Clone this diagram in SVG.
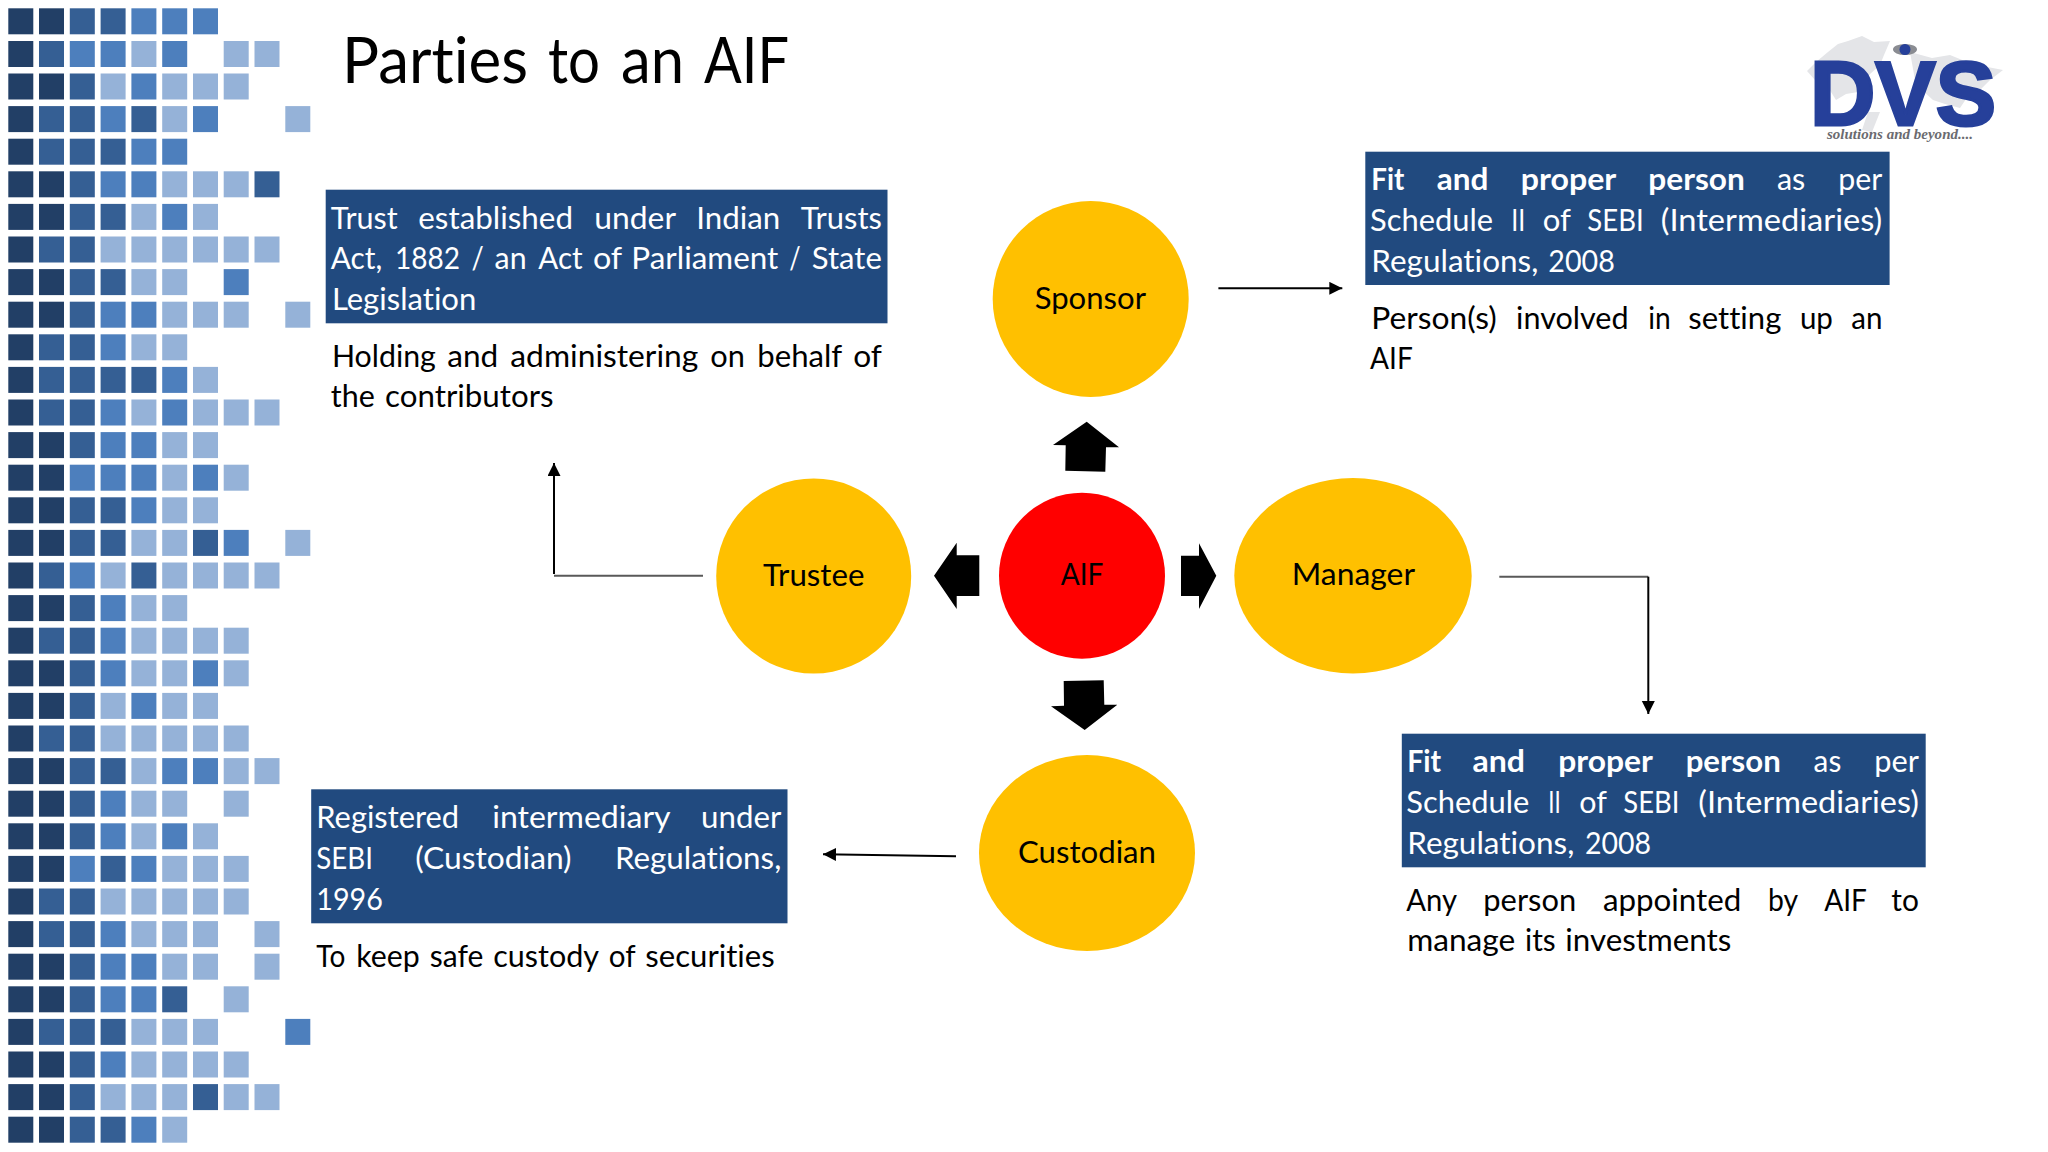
<svg xmlns="http://www.w3.org/2000/svg" width="2048" height="1152" viewBox="0 0 2048 1152">
<style>
text{font-family:"Lato","Open Sans",sans-serif;font-size:30.5px;fill:#000;font-variant-ligatures:none}
.w{fill:#fff}
.h{font-size:63px}
.b{font-weight:700}
#grid rect{width:25px;height:26px}
.a{fill:#223f66}.m{fill:#355f94}.c{fill:#4d7fbd}.d{fill:#95b2d8}
.box{fill:#214a7f}
.y{fill:#ffc000}
.r{fill:#f00}
.blk{fill:#000}
.ln{fill:none;stroke:#000;stroke-width:2}
.gr{fill:none;stroke:#595959;stroke-width:2}
.map{fill:#e4e5e8}
.logo{font-family:"Liberation Sans",sans-serif;font-weight:700;font-size:91px;fill:#26409a;stroke:#26409a;stroke-width:3}
.tag{font-family:"Liberation Serif",serif;font-style:italic;font-weight:700;font-size:14px;fill:#6b6b70}
</style>
<defs>
<marker id="ah" markerUnits="userSpaceOnUse" markerWidth="14" markerHeight="14" refX="13" refY="6.5" orient="auto"><path d="M0 0L13 6.5L0 13Z" fill="#000"/></marker>
</defs>
<rect width="2048" height="1152" fill="#fff"/>
<g id="grid">
<g transform="translate(0,8.3)"><rect class="a" x="8.3"/><rect class="a" x="39"/><rect class="m" x="69.8"/><rect class="m" x="100.6"/><rect class="c" x="131.4"/><rect class="c" x="162.2"/><rect class="c" x="193"/></g>
<g transform="translate(0,41)"><rect class="a" x="8.3"/><rect class="m" x="39"/><rect class="c" x="69.8"/><rect class="c" x="100.6"/><rect class="d" x="131.4"/><rect class="c" x="162.2"/><rect class="d" x="223.7"/><rect class="d" x="254.5"/></g>
<g transform="translate(0,73.5)"><rect class="a" x="8.3"/><rect class="a" x="39"/><rect class="m" x="69.8"/><rect class="d" x="100.6"/><rect class="c" x="131.4"/><rect class="d" x="162.2"/><rect class="d" x="193"/><rect class="d" x="223.7"/></g>
<g transform="translate(0,106.1)"><rect class="a" x="8.3"/><rect class="m" x="39"/><rect class="m" x="69.8"/><rect class="c" x="100.6"/><rect class="m" x="131.4"/><rect class="d" x="162.2"/><rect class="c" x="193"/><rect class="d" x="285.3"/></g>
<g transform="translate(0,138.7)"><rect class="a" x="8.3"/><rect class="m" x="39"/><rect class="m" x="69.8"/><rect class="m" x="100.6"/><rect class="c" x="131.4"/><rect class="c" x="162.2"/></g>
<g transform="translate(0,171.3)"><rect class="a" x="8.3"/><rect class="a" x="39"/><rect class="m" x="69.8"/><rect class="c" x="100.6"/><rect class="c" x="131.4"/><rect class="d" x="162.2"/><rect class="d" x="193"/><rect class="d" x="223.7"/><rect class="m" x="254.5"/></g>
<g transform="translate(0,203.9)"><rect class="a" x="8.3"/><rect class="a" x="39"/><rect class="m" x="69.8"/><rect class="m" x="100.6"/><rect class="d" x="131.4"/><rect class="c" x="162.2"/><rect class="d" x="193"/></g>
<g transform="translate(0,236.5)"><rect class="a" x="8.3"/><rect class="m" x="39"/><rect class="m" x="69.8"/><rect class="d" x="100.6"/><rect class="d" x="131.4"/><rect class="d" x="162.2"/><rect class="d" x="193"/><rect class="d" x="223.7"/><rect class="d" x="254.5"/></g>
<g transform="translate(0,269.1)"><rect class="a" x="8.3"/><rect class="a" x="39"/><rect class="m" x="69.8"/><rect class="m" x="100.6"/><rect class="d" x="131.4"/><rect class="d" x="162.2"/><rect class="c" x="223.7"/></g>
<g transform="translate(0,301.7)"><rect class="a" x="8.3"/><rect class="a" x="39"/><rect class="m" x="69.8"/><rect class="c" x="100.6"/><rect class="c" x="131.4"/><rect class="d" x="162.2"/><rect class="d" x="193"/><rect class="d" x="223.7"/><rect class="d" x="285.3"/></g>
<g transform="translate(0,334.3)"><rect class="a" x="8.3"/><rect class="m" x="39"/><rect class="m" x="69.8"/><rect class="c" x="100.6"/><rect class="d" x="131.4"/><rect class="d" x="162.2"/></g>
<g transform="translate(0,366.9)"><rect class="a" x="8.3"/><rect class="m" x="39"/><rect class="m" x="69.8"/><rect class="m" x="100.6"/><rect class="m" x="131.4"/><rect class="c" x="162.2"/><rect class="d" x="193"/></g>
<g transform="translate(0,399.5)"><rect class="a" x="8.3"/><rect class="m" x="39"/><rect class="m" x="69.8"/><rect class="c" x="100.6"/><rect class="d" x="131.4"/><rect class="c" x="162.2"/><rect class="d" x="193"/><rect class="d" x="223.7"/><rect class="d" x="254.5"/></g>
<g transform="translate(0,432.1)"><rect class="a" x="8.3"/><rect class="a" x="39"/><rect class="m" x="69.8"/><rect class="c" x="100.6"/><rect class="c" x="131.4"/><rect class="d" x="162.2"/><rect class="d" x="193"/></g>
<g transform="translate(0,464.7)"><rect class="a" x="8.3"/><rect class="a" x="39"/><rect class="c" x="69.8"/><rect class="c" x="100.6"/><rect class="c" x="131.4"/><rect class="d" x="162.2"/><rect class="c" x="193"/><rect class="d" x="223.7"/></g>
<g transform="translate(0,497.3)"><rect class="a" x="8.3"/><rect class="a" x="39"/><rect class="m" x="69.8"/><rect class="m" x="100.6"/><rect class="c" x="131.4"/><rect class="d" x="162.2"/><rect class="d" x="193"/></g>
<g transform="translate(0,529.9)"><rect class="a" x="8.3"/><rect class="a" x="39"/><rect class="m" x="69.8"/><rect class="m" x="100.6"/><rect class="d" x="131.4"/><rect class="d" x="162.2"/><rect class="m" x="193"/><rect class="c" x="223.7"/><rect class="d" x="285.3"/></g>
<g transform="translate(0,562.5)"><rect class="a" x="8.3"/><rect class="m" x="39"/><rect class="c" x="69.8"/><rect class="d" x="100.6"/><rect class="m" x="131.4"/><rect class="d" x="162.2"/><rect class="d" x="193"/><rect class="d" x="223.7"/><rect class="d" x="254.5"/></g>
<g transform="translate(0,595.1)"><rect class="a" x="8.3"/><rect class="a" x="39"/><rect class="m" x="69.8"/><rect class="c" x="100.6"/><rect class="d" x="131.4"/><rect class="d" x="162.2"/></g>
<g transform="translate(0,627.7)"><rect class="a" x="8.3"/><rect class="m" x="39"/><rect class="m" x="69.8"/><rect class="c" x="100.6"/><rect class="d" x="131.4"/><rect class="d" x="162.2"/><rect class="d" x="193"/><rect class="d" x="223.7"/></g>
<g transform="translate(0,660.3)"><rect class="a" x="8.3"/><rect class="a" x="39"/><rect class="m" x="69.8"/><rect class="c" x="100.6"/><rect class="d" x="131.4"/><rect class="d" x="162.2"/><rect class="c" x="193"/><rect class="d" x="223.7"/></g>
<g transform="translate(0,692.9)"><rect class="a" x="8.3"/><rect class="a" x="39"/><rect class="m" x="69.8"/><rect class="d" x="100.6"/><rect class="c" x="131.4"/><rect class="d" x="162.2"/><rect class="d" x="193"/></g>
<g transform="translate(0,725.5)"><rect class="a" x="8.3"/><rect class="m" x="39"/><rect class="m" x="69.8"/><rect class="d" x="100.6"/><rect class="d" x="131.4"/><rect class="d" x="162.2"/><rect class="d" x="193"/><rect class="d" x="223.7"/></g>
<g transform="translate(0,758.1)"><rect class="a" x="8.3"/><rect class="a" x="39"/><rect class="m" x="69.8"/><rect class="m" x="100.6"/><rect class="d" x="131.4"/><rect class="c" x="162.2"/><rect class="c" x="193"/><rect class="d" x="223.7"/><rect class="d" x="254.5"/></g>
<g transform="translate(0,790.7)"><rect class="a" x="8.3"/><rect class="a" x="39"/><rect class="m" x="69.8"/><rect class="c" x="100.6"/><rect class="d" x="131.4"/><rect class="d" x="162.2"/><rect class="d" x="223.7"/></g>
<g transform="translate(0,823.3)"><rect class="a" x="8.3"/><rect class="a" x="39"/><rect class="m" x="69.8"/><rect class="c" x="100.6"/><rect class="d" x="131.4"/><rect class="c" x="162.2"/><rect class="d" x="193"/></g>
<g transform="translate(0,855.9)"><rect class="a" x="8.3"/><rect class="a" x="39"/><rect class="c" x="69.8"/><rect class="m" x="100.6"/><rect class="c" x="131.4"/><rect class="d" x="162.2"/><rect class="d" x="193"/><rect class="d" x="223.7"/></g>
<g transform="translate(0,888.5)"><rect class="a" x="8.3"/><rect class="m" x="39"/><rect class="m" x="69.8"/><rect class="d" x="100.6"/><rect class="d" x="131.4"/><rect class="d" x="162.2"/><rect class="d" x="193"/><rect class="d" x="223.7"/></g>
<g transform="translate(0,921.1)"><rect class="a" x="8.3"/><rect class="m" x="39"/><rect class="m" x="69.8"/><rect class="c" x="100.6"/><rect class="d" x="131.4"/><rect class="d" x="162.2"/><rect class="d" x="193"/><rect class="d" x="254.5"/></g>
<g transform="translate(0,953.7)"><rect class="a" x="8.3"/><rect class="a" x="39"/><rect class="m" x="69.8"/><rect class="c" x="100.6"/><rect class="c" x="131.4"/><rect class="d" x="162.2"/><rect class="d" x="193"/><rect class="d" x="254.5"/></g>
<g transform="translate(0,986.3)"><rect class="a" x="8.3"/><rect class="a" x="39"/><rect class="m" x="69.8"/><rect class="c" x="100.6"/><rect class="c" x="131.4"/><rect class="m" x="162.2"/><rect class="d" x="223.7"/></g>
<g transform="translate(0,1018.9)"><rect class="a" x="8.3"/><rect class="m" x="39"/><rect class="m" x="69.8"/><rect class="m" x="100.6"/><rect class="d" x="131.4"/><rect class="d" x="162.2"/><rect class="d" x="193"/><rect class="c" x="285.3"/></g>
<g transform="translate(0,1051.5)"><rect class="a" x="8.3"/><rect class="a" x="39"/><rect class="m" x="69.8"/><rect class="c" x="100.6"/><rect class="d" x="131.4"/><rect class="d" x="162.2"/><rect class="d" x="193"/><rect class="d" x="223.7"/></g>
<g transform="translate(0,1084.1)"><rect class="a" x="8.3"/><rect class="a" x="39"/><rect class="m" x="69.8"/><rect class="d" x="100.6"/><rect class="d" x="131.4"/><rect class="d" x="162.2"/><rect class="m" x="193"/><rect class="d" x="223.7"/><rect class="d" x="254.5"/></g>
<g transform="translate(0,1116.7)"><rect class="a" x="8.3"/><rect class="a" x="39"/><rect class="m" x="69.8"/><rect class="m" x="100.6"/><rect class="c" x="131.4"/><rect class="d" x="162.2"/></g>
</g>
<text id="title" class="h" y="83"><tspan x="342" textLength="186" lengthAdjust="spacingAndGlyphs">Parties</tspan> <tspan x="548" textLength="52" lengthAdjust="spacingAndGlyphs">to</tspan> <tspan x="621" textLength="63" lengthAdjust="spacingAndGlyphs">an</tspan> <tspan x="704" textLength="85" lengthAdjust="spacingAndGlyphs">AIF</tspan></text>
<g id="logo">
<path class="map" d="M1807 71L1816 62L1828 52L1838 44L1848 41L1862 36L1874 42L1890 41L1884 55L1880 65L1870 74L1858 92L1846 94L1836 100L1826 84L1815 80Z"/>
<path class="map" d="M1868 112L1880 112L1872 132L1862 130Z"/>
<path class="map" d="M1910 52L1932 58L1950 55L1972 64L2003 70L1990 80L1980 90L1968 96L1960 108L1945 104L1933 100L1922 90L1915 80Z"/>
<text class="logo" x="1810" y="124.5" textLength="186" lengthAdjust="spacingAndGlyphs">DVS</text>
<ellipse cx="1905" cy="49.5" rx="12" ry="5.5" fill="#8a8c92"/>
<circle cx="1905" cy="49.5" r="5.5" fill="#26409a"/>
<text class="tag" x="1827" y="139" textLength="146" lengthAdjust="spacingAndGlyphs">solutions and beyond....</text>
</g>
<g id="connectors">
<path class="ln" d="M1218.4 288.3H1342.3" marker-end="url(#ah)"/>
<path class="gr" d="M1499.3 576.7H1648.3"/>
<path class="ln" d="M1648.3 576.7V714" marker-end="url(#ah)"/>
<path class="gr" d="M703 575.7H554"/>
<path class="ln" d="M554 574V463" marker-end="url(#ah)"/>
<path class="ln" d="M956 856.3L823 854.3" marker-end="url(#ah)"/>
<path class="blk" d="M1086.7 421.7L1119 447.3H1106L1105.3 471.7L1065.3 470.7L1065.7 445.3L1053 445Z"/>
<path class="blk" d="M934 575.7L956.7 542.7V555.3H979.3V596H956.7V609Z"/>
<path class="blk" d="M1181 555.7H1199V543.3L1216.3 575.7L1199 609V596H1181Z"/>
<path class="blk" d="M1063.7 681L1103.7 680.3L1104.3 704.7H1117.3L1084.7 730L1051 706.3L1064 705.7Z"/>
</g>
<g id="aif"><circle class="r" cx="1082" cy="575.7" r="83"/><text x="1060.7" y="585.3" textLength="42.6" lengthAdjust="spacingAndGlyphs">AIF</text></g>
<g id="sponsor"><circle class="y" cx="1090.7" cy="299" r="98"/><text x="1034.7" y="309" textLength="111.3" lengthAdjust="spacingAndGlyphs">Sponsor</text></g>
<g id="trustee"><circle class="y" cx="813.7" cy="576" r="97.5"/><text x="763" y="585.5" textLength="101.5" lengthAdjust="spacingAndGlyphs">Trustee</text></g>
<g id="manager"><ellipse class="y" cx="1353" cy="575.7" rx="118.7" ry="97.7"/><text x="1291.7" y="585.2" textLength="123.3" lengthAdjust="spacingAndGlyphs">Manager</text></g>
<g id="custodian"><ellipse class="y" cx="1087" cy="853" rx="108" ry="98"/><text x="1018" y="862.5" textLength="138" lengthAdjust="spacingAndGlyphs">Custodian</text></g>
<g id="trust-info">
<rect class="box" x="325.7" y="189.7" width="561.8" height="133.6"/>
<g transform="translate(-0.7,0.5)">
<text class="w" y="228"><tspan x="331.5" textLength="67" lengthAdjust="spacingAndGlyphs">Trust</tspan> <tspan x="419" textLength="154.7" lengthAdjust="spacingAndGlyphs">established</tspan> <tspan x="595" textLength="81" lengthAdjust="spacingAndGlyphs">under</tspan> <tspan x="697" textLength="84" lengthAdjust="spacingAndGlyphs">Indian</tspan> <tspan x="801.4" textLength="81.2" lengthAdjust="spacingAndGlyphs">Trusts</tspan></text>
<text class="w" y="268"><tspan x="331.5" textLength="51.5" lengthAdjust="spacingAndGlyphs">Act,</tspan> <tspan x="395.8" textLength="65" lengthAdjust="spacingAndGlyphs">1882</tspan> <tspan x="472.3" textLength="12.3" lengthAdjust="spacingAndGlyphs">/</tspan> <tspan x="495.3" textLength="32" lengthAdjust="spacingAndGlyphs">an</tspan> <tspan x="539" textLength="44.3" lengthAdjust="spacingAndGlyphs">Act</tspan> <tspan x="593.6" textLength="28.7" lengthAdjust="spacingAndGlyphs">of</tspan> <tspan x="632" textLength="147" lengthAdjust="spacingAndGlyphs">Parliament</tspan> <tspan x="790" textLength="11.4" lengthAdjust="spacingAndGlyphs">/</tspan> <tspan x="812.5" textLength="70" lengthAdjust="spacingAndGlyphs">State</tspan></text>
<text class="w" x="332.6" y="309" textLength="144.4" lengthAdjust="spacingAndGlyphs">Legislation</text>
<text y="366.7"><tspan x="332.6" textLength="104" lengthAdjust="spacingAndGlyphs">Holding</tspan> <tspan x="448" textLength="51" lengthAdjust="spacingAndGlyphs">and</tspan> <tspan x="511" textLength="188" lengthAdjust="spacingAndGlyphs">administering</tspan> <tspan x="711" textLength="34.6" lengthAdjust="spacingAndGlyphs">on</tspan> <tspan x="758" textLength="84.4" lengthAdjust="spacingAndGlyphs">behalf</tspan> <tspan x="853.9" textLength="28.7" lengthAdjust="spacingAndGlyphs">of</tspan></text>
<text y="406.7"><tspan x="331.5" textLength="44" lengthAdjust="spacingAndGlyphs">the</tspan> <tspan x="385.8" textLength="168.4" lengthAdjust="spacingAndGlyphs">contributors</tspan></text>
</g>
</g>
<g id="sponsor-info">
<rect class="box" x="1365.3" y="151.7" width="524.3" height="133.3"/>
<g transform="translate(-0.7,0.3)">
<text class="w" y="190"><tspan class="b" x="1372" textLength="33" lengthAdjust="spacingAndGlyphs">Fit</tspan> <tspan class="b" x="1437.4" textLength="51.6" lengthAdjust="spacingAndGlyphs">and</tspan> <tspan class="b" x="1521.4" textLength="95.6" lengthAdjust="spacingAndGlyphs">proper</tspan> <tspan class="b" x="1649" textLength="96.5" lengthAdjust="spacingAndGlyphs">person</tspan> <tspan x="1777.6" textLength="28.4" lengthAdjust="spacingAndGlyphs">as</tspan> <tspan x="1839" textLength="44" lengthAdjust="spacingAndGlyphs">per</tspan></text>
<text class="w" y="230.7"><tspan x="1370.8" textLength="123" lengthAdjust="spacingAndGlyphs">Schedule</tspan> <tspan x="1512" textLength="14" lengthAdjust="spacingAndGlyphs">II</tspan> <tspan x="1543.4" textLength="27.6" lengthAdjust="spacingAndGlyphs">of</tspan> <tspan x="1588" textLength="56.4" lengthAdjust="spacingAndGlyphs">SEBI</tspan> <tspan x="1661.4" textLength="221.6" lengthAdjust="spacingAndGlyphs">(Intermediaries)</tspan></text>
<text class="w" y="271.7"><tspan x="1372" textLength="167" lengthAdjust="spacingAndGlyphs">Regulations,</tspan> <tspan x="1549" textLength="66.5" lengthAdjust="spacingAndGlyphs">2008</tspan></text>
<text y="328.3"><tspan x="1372" textLength="125.5" lengthAdjust="spacingAndGlyphs">Person(s)</tspan> <tspan x="1516.8" textLength="112.5" lengthAdjust="spacingAndGlyphs">involved</tspan> <tspan x="1649" textLength="22.5" lengthAdjust="spacingAndGlyphs">in</tspan> <tspan x="1689" textLength="93" lengthAdjust="spacingAndGlyphs">setting</tspan> <tspan x="1800.6" textLength="33" lengthAdjust="spacingAndGlyphs">up</tspan> <tspan x="1852" textLength="31.2" lengthAdjust="spacingAndGlyphs">an</tspan></text>
<text x="1370.8" y="369" textLength="42.7" lengthAdjust="spacingAndGlyphs">AIF</text>
</g>
</g>
<g id="manager-info">
<rect class="box" x="1401.8" y="733.7" width="523.9" height="133.6"/>
<g transform="translate(-0.7,0.5)">
<text class="w" y="771.7"><tspan class="b" x="1407.9" textLength="33.9" lengthAdjust="spacingAndGlyphs">Fit</tspan> <tspan class="b" x="1473.2" textLength="52.5" lengthAdjust="spacingAndGlyphs">and</tspan> <tspan class="b" x="1559" textLength="94.6" lengthAdjust="spacingAndGlyphs">proper</tspan> <tspan class="b" x="1686.4" textLength="95" lengthAdjust="spacingAndGlyphs">person</tspan> <tspan x="1814.3" textLength="27.7" lengthAdjust="spacingAndGlyphs">as</tspan> <tspan x="1875" textLength="44.6" lengthAdjust="spacingAndGlyphs">per</tspan></text>
<text class="w" y="812.7"><tspan x="1407" textLength="123" lengthAdjust="spacingAndGlyphs">Schedule</tspan> <tspan x="1549" textLength="12.4" lengthAdjust="spacingAndGlyphs">II</tspan> <tspan x="1580" textLength="27" lengthAdjust="spacingAndGlyphs">of</tspan> <tspan x="1624" textLength="56" lengthAdjust="spacingAndGlyphs">SEBI</tspan> <tspan x="1699" textLength="220.6" lengthAdjust="spacingAndGlyphs">(Intermediaries)</tspan></text>
<text class="w" y="853.3"><tspan x="1407.9" textLength="167.1" lengthAdjust="spacingAndGlyphs">Regulations,</tspan> <tspan x="1585.7" textLength="66.1" lengthAdjust="spacingAndGlyphs">2008</tspan></text>
<text y="910"><tspan x="1407" textLength="50" lengthAdjust="spacingAndGlyphs">Any</tspan> <tspan x="1484" textLength="92.8" lengthAdjust="spacingAndGlyphs">person</tspan> <tspan x="1603.6" textLength="138.4" lengthAdjust="spacingAndGlyphs">appointed</tspan> <tspan x="1768.6" textLength="29.4" lengthAdjust="spacingAndGlyphs">by</tspan> <tspan x="1825" textLength="42" lengthAdjust="spacingAndGlyphs">AIF</tspan> <tspan x="1892" textLength="27.6" lengthAdjust="spacingAndGlyphs">to</tspan></text>
<text y="950.7"><tspan x="1407.9" textLength="108.1" lengthAdjust="spacingAndGlyphs">manage</tspan> <tspan x="1525.7" textLength="30.7" lengthAdjust="spacingAndGlyphs">its</tspan> <tspan x="1566" textLength="166" lengthAdjust="spacingAndGlyphs">investments</tspan></text>
</g>
</g>
<g id="custodian-info">
<rect class="box" x="311.2" y="789.3" width="476.3" height="134"/>
<g transform="translate(-0.7,0.5)">
<text class="w" y="827.7"><tspan x="317" textLength="142.8" lengthAdjust="spacingAndGlyphs">Registered</tspan> <tspan x="492.9" textLength="177.6" lengthAdjust="spacingAndGlyphs">intermediary</tspan> <tspan x="701.8" textLength="80.2" lengthAdjust="spacingAndGlyphs">under</tspan></text>
<text class="w" y="868.3"><tspan x="317" textLength="56.7" lengthAdjust="spacingAndGlyphs">SEBI</tspan> <tspan x="416" textLength="156.3" lengthAdjust="spacingAndGlyphs">(Custodian)</tspan> <tspan x="615.6" textLength="166.4" lengthAdjust="spacingAndGlyphs">Regulations,</tspan></text>
<text class="w" x="317" y="909.3" textLength="66.5" lengthAdjust="spacingAndGlyphs">1996</text>
<text y="966"><tspan x="317" textLength="29" lengthAdjust="spacingAndGlyphs">To</tspan> <tspan x="357" textLength="63.5" lengthAdjust="spacingAndGlyphs">keep</tspan> <tspan x="430.4" textLength="53.6" lengthAdjust="spacingAndGlyphs">safe</tspan> <tspan x="494" textLength="105" lengthAdjust="spacingAndGlyphs">custody</tspan> <tspan x="609.4" textLength="26.3" lengthAdjust="spacingAndGlyphs">of</tspan> <tspan x="646" textLength="129.4" lengthAdjust="spacingAndGlyphs">securities</tspan></text>
</g>
</g>
</svg>
